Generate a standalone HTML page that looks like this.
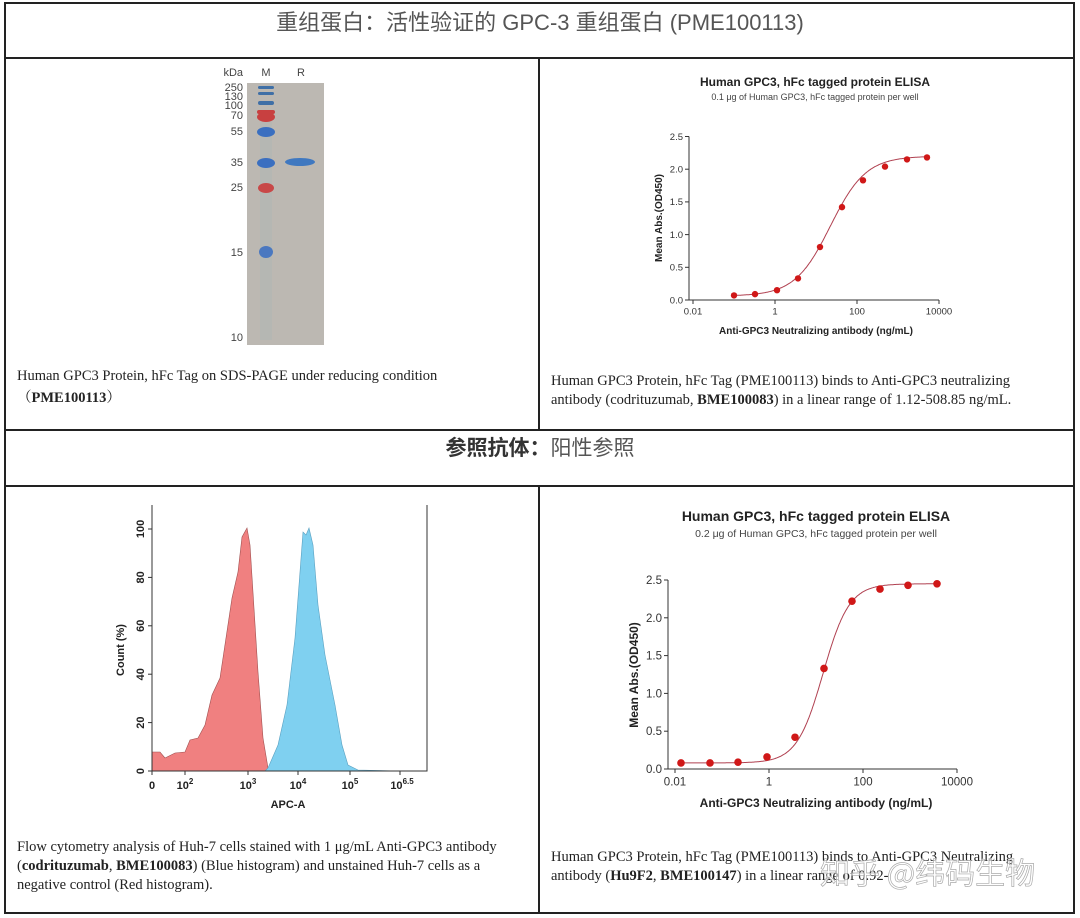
<!DOCTYPE html>
<html><head><meta charset="utf-8"><style>
html,body{margin:0;padding:0;background:#fff;}
svg{display:block;}
.s{font-family:"Liberation Serif","Noto Serif CJK SC",serif;font-size:14.5px;fill:#222;}
</style></head><body>
<svg id="v" width="1080" height="918" viewBox="0 0 1080 918" xmlns="http://www.w3.org/2000/svg">
<rect width="1080" height="918" fill="#fff"/>
<g stroke="#222" stroke-width="2" fill="none">
<rect x="5" y="3" width="1069" height="910"/>
<line x1="5" y1="58" x2="1074" y2="58"/>
<line x1="5" y1="430" x2="1074" y2="430"/>
<line x1="5" y1="486" x2="1074" y2="486"/>
<line x1="539" y1="58" x2="539" y2="430"/>
<line x1="539" y1="486" x2="539" y2="913"/>
</g>
<text x="540" y="30" text-anchor="middle" font-size="22" fill="#555" font-family="Liberation Sans, Noto Sans CJK SC, sans-serif">重组蛋白：活性验证的 GPC-3 重组蛋白 (PME100113)</text>
<text x="540" y="455" text-anchor="middle" font-size="21" fill="#555" font-family="Liberation Sans, Noto Sans CJK SC, sans-serif"><tspan font-weight="bold" fill="#333">参照抗体：</tspan>阳性参照</text>

<rect x="247" y="83" width="77" height="262" fill="#bcb8b2"/>
<g font-size="11" fill="#444" text-anchor="end" font-family="Liberation Sans, sans-serif">
<text x="243" y="76">kDa</text>
<text x="243" y="91">250</text><text x="243" y="100">130</text><text x="243" y="109">100</text><text x="243" y="119">70</text>
<text x="243" y="135">55</text><text x="243" y="166">35</text><text x="243" y="191">25</text><text x="243" y="256">15</text><text x="243" y="341">10</text>
</g>
<text x="266" y="76" font-size="11" fill="#444" text-anchor="middle" font-family="Liberation Sans, sans-serif">M</text>
<text x="301" y="76" font-size="11" fill="#444" text-anchor="middle" font-family="Liberation Sans, sans-serif">R</text>
<g>
<rect x="260" y="120" width="12" height="220" fill="#aeb6b4" opacity="0.5"/>
<rect x="258" y="86" width="16" height="3" rx="1.5" fill="#3f6fa6"/>
<rect x="258" y="92" width="16" height="3" rx="1.5" fill="#3f6fa6"/>
<rect x="258" y="101" width="16" height="4" rx="2" fill="#3f6fa6"/>
<rect x="257" y="110" width="18" height="4" rx="2" fill="#c84040"/>
<ellipse cx="266" cy="117" rx="9" ry="5" fill="#c84040"/>
<ellipse cx="266" cy="132" rx="9" ry="5" fill="#3a6fc0"/>
<ellipse cx="266" cy="163" rx="9" ry="5" fill="#3a6fc0"/>
<ellipse cx="266" cy="188" rx="8" ry="5" fill="#c84848"/>
<ellipse cx="266" cy="252" rx="7" ry="6" fill="#4a78c0"/>
<ellipse cx="300" cy="162" rx="15" ry="4" fill="#3f78c0"/>
</g>
<text x="17" y="380" class="s">Human GPC3 Protein, hFc Tag on SDS-PAGE under reducing condition</text>
<text x="17" y="402" class="s">（<tspan font-weight="bold">PME100113</tspan>）</text>

<text x="551" y="385" class="s">Human GPC3 Protein, hFc Tag (PME100113) binds to Anti-GPC3 neutralizing</text>
<text x="551" y="404" class="s">antibody (codrituzumab, <tspan font-weight="bold">BME100083</tspan>) in a linear range of 1.12-508.85 ng/mL.</text>

<text x="17" y="851" class="s">Flow cytometry analysis of Huh-7 cells stained with 1 μg/mL Anti-GPC3 antibody</text>
<text x="17" y="870" class="s">(<tspan font-weight="bold">codrituzumab</tspan>, <tspan font-weight="bold">BME100083</tspan>) (Blue histogram) and unstained Huh-7 cells as a</text>
<text x="17" y="889" class="s">negative control (Red histogram).</text>

<text x="551" y="861" class="s">Human GPC3 Protein, hFc Tag (PME100113) binds to Anti-GPC3 Neutralizing</text>
<text x="551" y="880" class="s">antibody (<tspan font-weight="bold">Hu9F2</tspan>, <tspan font-weight="bold">BME100147</tspan>) in a linear range of 0.92-</text>
<text x="820" y="884" font-size="30" fill="#fff" fill-opacity="0.6" stroke="#aaa" stroke-width="0.7" font-family="Noto Sans CJK SC, sans-serif">知乎 @纬码生物</text>

<g font-family="Liberation Sans, sans-serif" fill="#222">
<text x="815" y="86" text-anchor="middle" font-size="12" font-weight="bold">Human GPC3, hFc tagged protein ELISA</text>
<text x="815" y="100" text-anchor="middle" font-size="9" fill="#444">0.1 μg of Human GPC3, hFc tagged protein per well</text>
<text x="816" y="334" text-anchor="middle" font-size="10" font-weight="bold">Anti-GPC3 Neutralizing antibody (ng/mL)</text>
<text transform="translate(662,218) rotate(-90)" text-anchor="middle" font-size="10" font-weight="bold">Mean Abs.(OD450)</text>
</g>
<g id="top" font-family="Liberation Sans, sans-serif" font-size="9.5" fill="#333"></g>

<g font-family="Liberation Sans, sans-serif" fill="#222">
<text x="816" y="521" text-anchor="middle" font-size="14" font-weight="bold">Human GPC3, hFc tagged protein ELISA</text>
<text x="816" y="537" text-anchor="middle" font-size="10.5" fill="#444">0.2 μg of Human GPC3, hFc tagged protein per well</text>
<text x="816" y="807" text-anchor="middle" font-size="12" font-weight="bold">Anti-GPC3 Neutralizing antibody (ng/mL)</text>
<text transform="translate(638,675) rotate(-90)" text-anchor="middle" font-size="12" font-weight="bold">Mean Abs.(OD450)</text>
</g>
<g id="bot" font-family="Liberation Sans, sans-serif" font-size="11.5" fill="#333"></g>

<g>
<path fill="#f08080" stroke="#a05050" stroke-width="0.6" d="M152,771 L152,752 L160,752 L165,758 L175,753 L185,752 L190,740 L198,738 L205,725 L212,695 L220,678 L232,598 L238,572 L242,537 L247,528 L250,545 L258,672 L263,738 L268,768 L270,771 Z"/>
<path fill="#7fd0f0" stroke="#5aa0c0" stroke-width="0.6" d="M265,771 L268,768 L278,745 L287,705 L295,638 L300,572 L303,532 L306,535 L309,528 L313,545 L318,605 L325,655 L335,705 L342,745 L348,765 L358,770 L400,771 Z"/>
<polyline points="152,505 152,771 427,771 427,505" stroke="#333" stroke-width="1" fill="none"/>
<g stroke="#333" stroke-width="1">
<line x1="148" y1="771" x2="152" y2="771"/><line x1="148" y1="722.6" x2="152" y2="722.6"/><line x1="148" y1="674.2" x2="152" y2="674.2"/><line x1="148" y1="625.8" x2="152" y2="625.8"/><line x1="148" y1="577.4" x2="152" y2="577.4"/><line x1="148" y1="529" x2="152" y2="529"/>
<line x1="152" y1="771" x2="152" y2="775"/><line x1="185" y1="771" x2="185" y2="775"/><line x1="248" y1="771" x2="248" y2="775"/><line x1="298" y1="771" x2="298" y2="775"/><line x1="350" y1="771" x2="350" y2="775"/><line x1="400" y1="771" x2="400" y2="775"/>
</g>
<g font-family="Liberation Sans, sans-serif" font-size="11" font-weight="bold" fill="#222" text-anchor="middle">
<text transform="translate(144,771) rotate(-90)">0</text>
<text transform="translate(144,722.6) rotate(-90)">20</text>
<text transform="translate(144,674.2) rotate(-90)">40</text>
<text transform="translate(144,625.8) rotate(-90)">60</text>
<text transform="translate(144,577.4) rotate(-90)">80</text>
<text transform="translate(144,529) rotate(-90)">100</text>
<text transform="translate(124,650) rotate(-90)">Count (%)</text>
<text x="152" y="789">0</text>
<text x="185" y="789">10<tspan dy="-5" font-size="8">2</tspan></text>
<text x="248" y="789">10<tspan dy="-5" font-size="8">3</tspan></text>
<text x="298" y="789">10<tspan dy="-5" font-size="8">4</tspan></text>
<text x="350" y="789">10<tspan dy="-5" font-size="8">5</tspan></text>
<text x="402" y="789">10<tspan dy="-5" font-size="8">6.5</tspan></text>
<text x="288" y="808">APC-A</text>
</g>
</g>
</svg>
<script>
(function(){
var NS="http://www.w3.org/2000/svg";
function el(p,t,a,txt){var e=document.createElementNS(NS,t);for(var k in a)e.setAttribute(k,a[k]);if(txt!=null)e.textContent=txt;p.appendChild(e);return e;}
function chart(id,o){
 var g=document.getElementById(id);
 var X=function(l){return o.x1+l*o.dx;}, Y=function(v){return o.y0-v*o.dy;};
 el(g,"polyline",{points:o.ax+","+Y(2.5)+" "+o.ax+","+o.y0+" "+X(4)+","+o.y0,fill:"none",stroke:"#333","stroke-width":1});
 for(var i=0;i<=5;i++){var v=i*0.5;el(g,"line",{x1:o.ax-4,x2:o.ax,y1:Y(v),y2:Y(v),stroke:"#333"});
  el(g,"text",{x:o.ax-6,y:Y(v)+o.fs*0.35,"text-anchor":"end"},v.toFixed(1));}
 var lab=["0.01","1","100","10000"];
 for(var i=0;i<4;i++){var l=-2+i*2;el(g,"line",{x1:X(l),x2:X(l),y1:o.y0,y2:o.y0+4,stroke:"#333"});
  el(g,"text",{x:X(l),y:o.y0+5+o.fs,"text-anchor":"middle"},lab[i]);}
 var d="";for(var l=o.l0;l<=o.l1;l+=0.02){var v=o.b+(o.t-o.b)/(1+Math.pow(10,(o.c-l)*o.h));d+=(d?"L":"M")+X(l).toFixed(1)+","+Y(v).toFixed(1);}
 el(g,"path",{d:d,fill:"none",stroke:"#b04050","stroke-width":1});
 o.pts.forEach(function(p){el(g,"circle",{cx:p[0],cy:Y(p[1]),r:o.r,fill:"#d01818"});});
}
chart("top",{ax:689,x1:775,dx:41,y0:300,dy:65.4,fs:9.5,b:0.06,t:2.2,c:1.35,h:1.0,l0:-1,l1:3.7,r:3.2,
 pts:[[734,0.07],[755,0.09],[777,0.15],[798,0.33],[820,0.81],[842,1.42],[863,1.83],[885,2.04],[907,2.15],[927,2.18]]});
chart("bot",{ax:668,x1:769,dx:47,y0:769,dy:75.6,fs:11.5,b:0.08,t:2.45,c:1.15,h:1.56,l0:-1.87,l1:3.57,r:3.8,
 pts:[[681,0.08],[710,0.08],[738,0.09],[767,0.16],[795,0.42],[824,1.33],[852,2.22],[880,2.38],[908,2.43],[937,2.45]]});
})();
</script>
</body></html>
